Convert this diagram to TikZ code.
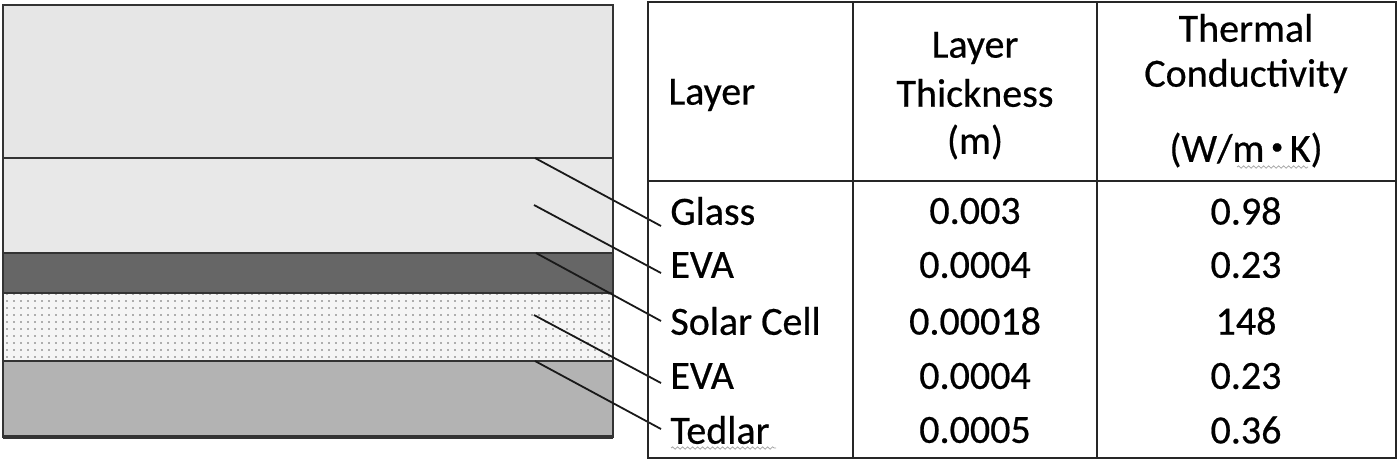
\documentclass[tikz,border=0pt]{standalone}
\usepackage{fontspec}
\setmainfont{Carlito}[FakeBold=0.5]
\usetikzlibrary{patterns.meta,decorations.pathmorphing}
\definecolor{glassc}{HTML}{E6E6E6}
\definecolor{evac}{HTML}{E8E8E8}
\definecolor{cellc}{HTML}{666666}
\definecolor{evbc}{HTML}{F5F5F5}
\definecolor{tedc}{HTML}{B3B3B3}
\definecolor{edgec}{HTML}{333333}
\tikzset{
  layerbox/.style={draw=edgec, line width=1pt},
  leader/.style={draw=black!90, line width=0.9pt},
  grid/.style={draw=black!85, line width=1pt},
  txt/.style={font=\fontsize{20}{24}\selectfont, inner sep=0pt},
  squig/.style={draw=black!35, line width=0.4pt, decorate, decoration={snake, amplitude=0.6pt, segment length=2.5pt}}
}
\begin{document}
\begin{tikzpicture}[x=0.5pt,y=-0.5pt]
\useasboundingbox (0,0) rectangle (1400,462);
% layered stack
\path[layerbox, fill=glassc] (3,5) rectangle (613,158);
\path[layerbox, fill=evac] (3,158) rectangle (613,253);
\path[layerbox, fill=cellc] (3,253) rectangle (613,293);
\path[fill=evbc] (3,293) rectangle (613,361);
\path[pattern={Dots[distance=3.5pt, radius=0.45pt]}, pattern color=black!60] (3,293) rectangle (613,361);
\path[layerbox] (3,293) rectangle (613,361);
\path[layerbox, fill=tedc] (3,361) rectangle (613,437);
\draw[edgec, line width=1.8pt] (3,437) -- (613,437);
% leader start points
\coordinate (p1) at (535,158);
\coordinate (p2) at (534,205);
\coordinate (p3) at (536,253);
\coordinate (p4) at (534,315);
\coordinate (p5) at (535,361);
\coordinate (q1) at (661,226);
\coordinate (q2) at (661,273);
\coordinate (q3) at (661,321);
\coordinate (q4) at (661,383);
\coordinate (q5) at (661,429);
\path[leader] (p1) -- (q1);
\path[leader] (p2) -- (q2);
\path[leader] (p3) -- (q3);
\path[leader] (p4) -- (q4);
\path[leader] (p5) -- (q5);
% table
\path[grid] (648,2) rectangle (1396,458);
\path[grid] (648,181) -- (1396,181);
\path[grid] (853,2) -- (853,458);
\path[grid] (1097,2) -- (1097,458);
% header
\node[txt, anchor=west] (hL) at (668,95) {Layer};
\node[txt] (hT1) at (975,48) {Layer};
\node[txt] (hT2) at (975,93) {Thickness};
\node[txt] (hT3) at (975,142) {(m)};
\node[txt] (hC1) at (1246,28) {Thermal};
\node[txt] (hC2) at (1246,76) {Conductivity};
\node[txt] (hC3) at (1246,150) {(W/m\,\raisebox{0.4ex}{\fontsize{12}{12}\selectfont•}\,K)};
% rows
\node[txt, anchor=west] (r1) at (670,211) {Glass};
\node[txt, anchor=west] (r2) at (670,265) {EVA};
\node[txt, anchor=west] (r3) at (670,321) {Solar Cell};
\node[txt, anchor=west] (r4) at (670,376) {EVA};
\node[txt, anchor=west] (r5) at (670,430) {Tedlar};
\node[txt] (t1) at (975,211) {0.003};
\node[txt] (t2) at (975,265) {0.0004};
\node[txt] (t3) at (975,321) {0.00018};
\node[txt] (t4) at (975,376) {0.0004};
\node[txt] (t5) at (975,430) {0.0005};
\node[txt] (c1) at (1246,211) {0.98};
\node[txt] (c2) at (1246,265) {0.23};
\node[txt] (c3) at (1246,321) {148};
\node[txt] (c4) at (1246,376) {0.23};
\node[txt] (c5) at (1246,430) {0.36};
% spell-check squiggles
\path[squig] (671,448) -- (776,448);
\path[squig] (1237,167) -- (1308,167);
\end{tikzpicture}
\end{document}
